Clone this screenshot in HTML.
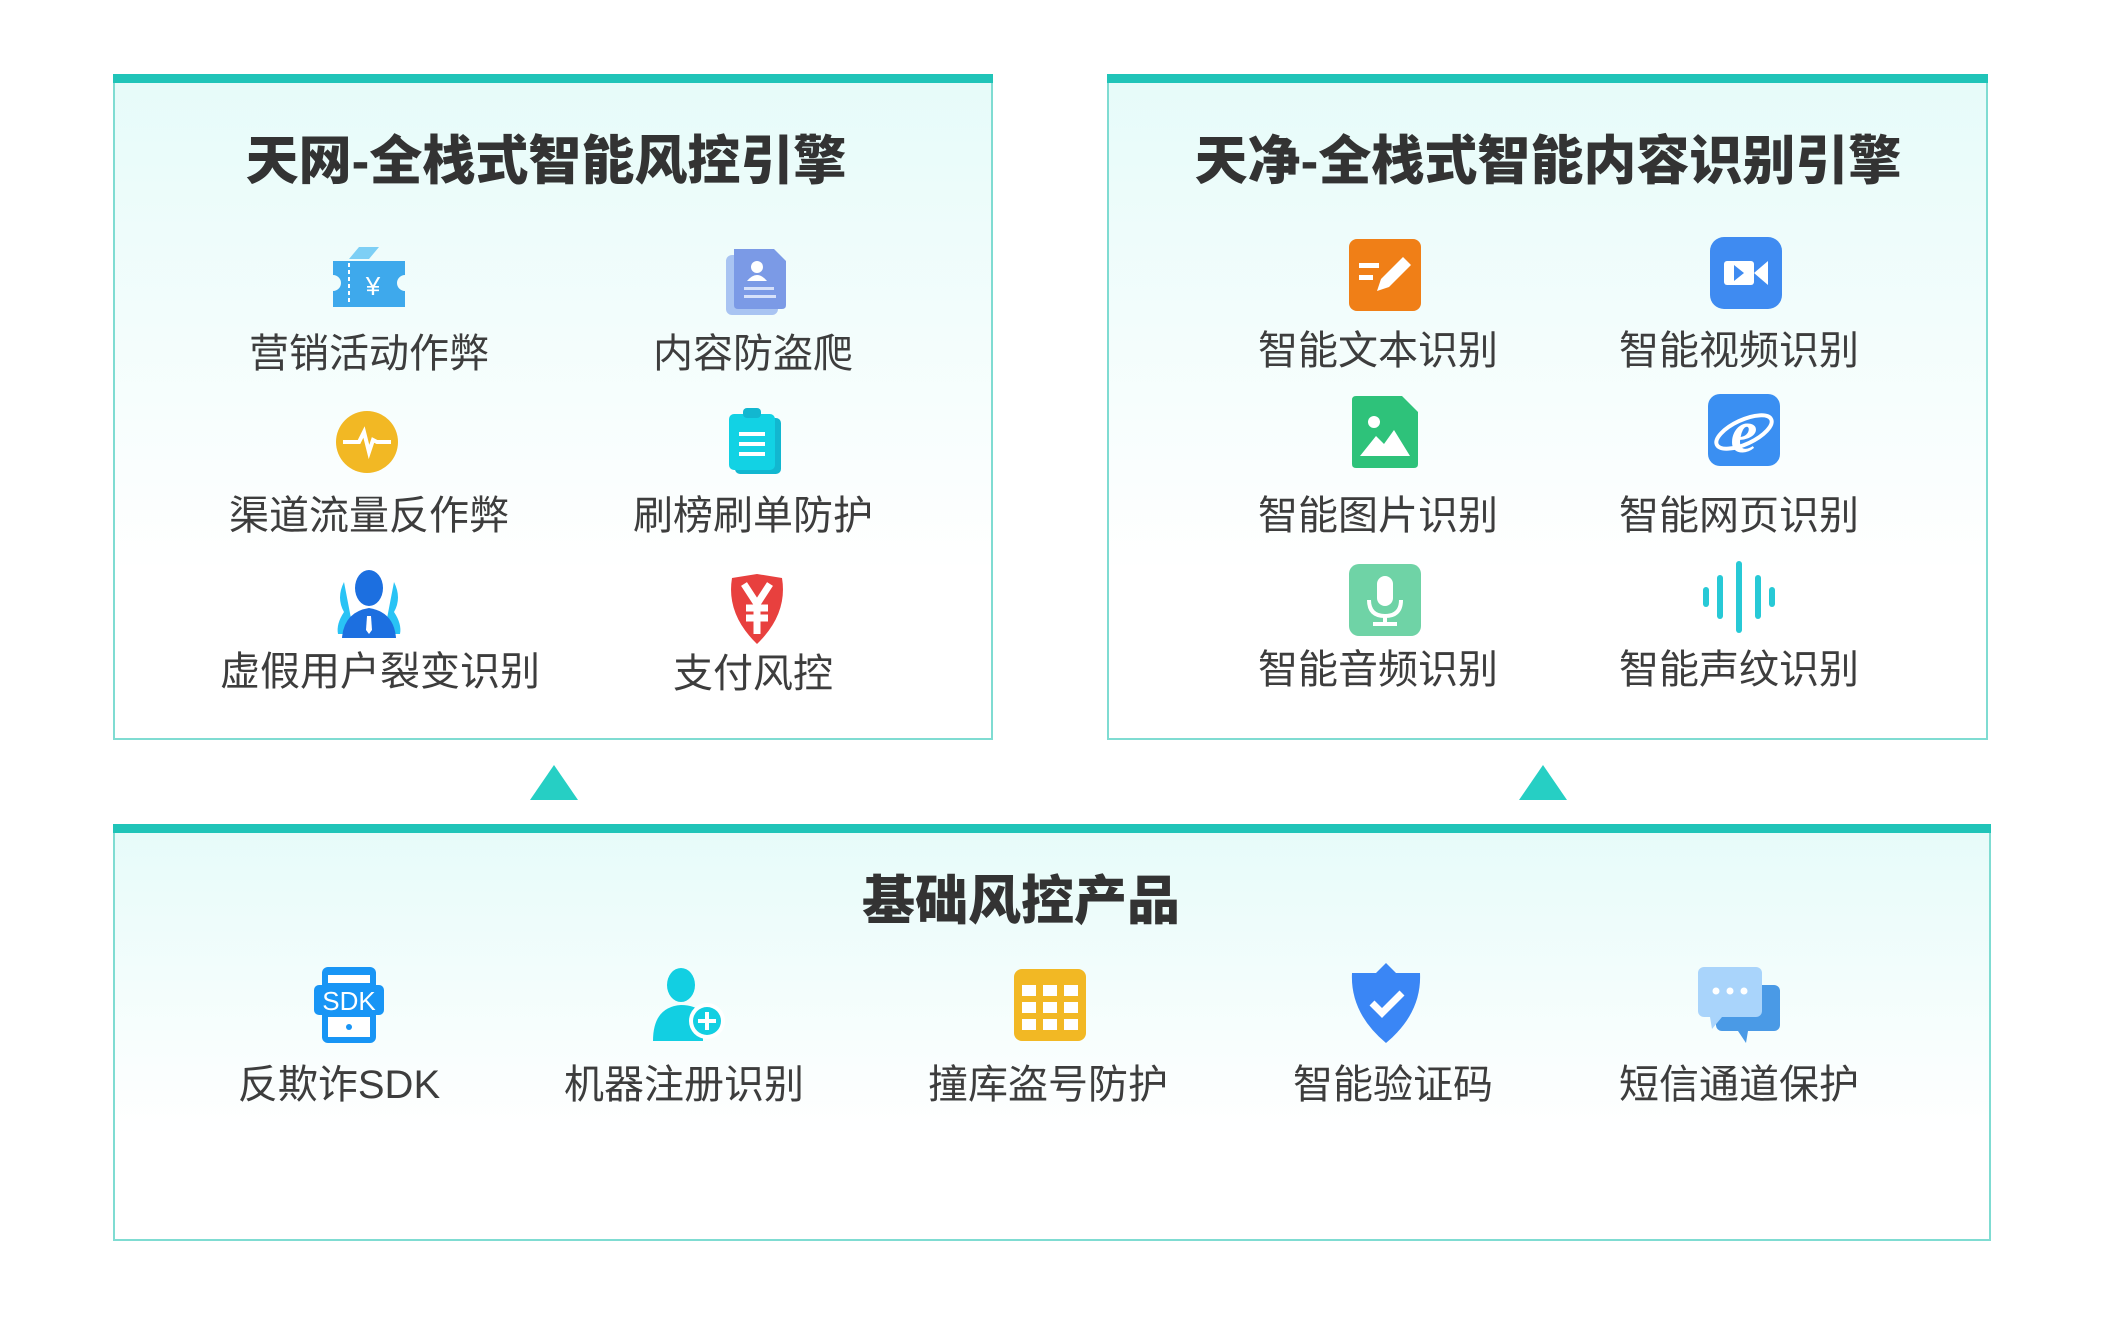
<!DOCTYPE html>
<html><head><meta charset="utf-8"><style>
body{margin:0;width:2102px;height:1330px;background:#fff;position:relative;overflow:hidden;font-family:"Liberation Sans","Noto Sans CJK SC",sans-serif;}
.box{position:absolute;border:2px solid #7fdcd2;border-top:none;background:linear-gradient(#e6fbf9,#ffffff 75%);box-sizing:border-box}
.bar{position:absolute;left:-2px;right:-2px;top:0;height:9px;background:#20c4b8}
.t{position:absolute;transform:translate(-50%,-50%);white-space:nowrap;color:#3a3a3a}
.h{font-size:53px;font-weight:900;color:#333}
.l{font-size:40px;color:#3d3d3d}
.i{position:absolute;transform:translate(-50%,-50%)}
.tri{position:absolute;width:0;height:0;border-left:24px solid transparent;border-right:24px solid transparent;border-bottom:35px solid #26cfc4}
</style></head><body>
<div class="box" style="left:113px;top:74px;width:880px;height:666px"><div class="bar"></div></div>
<div class="box" style="left:1107px;top:74px;width:881px;height:666px"><div class="bar"></div></div>
<div class="box" style="left:113px;top:824px;width:1878px;height:417px"><div class="bar"></div></div>
<div class="tri" style="left:530px;top:765px"></div>
<div class="tri" style="left:1519px;top:765px"></div>

<div class="t h" style="left:546px;top:157px">天网-全栈式智能风控引擎</div>
<div class="t h" style="left:1548px;top:157px">天净-全栈式智能内容识别引擎</div>
<div class="t h" style="left:1021px;top:897px">基础风控产品</div>

<svg class="i" style="left:369px;top:282px" width="80" height="70" viewBox="0 0 80 70"><path d="M20 12 L30 0 L50 0 L40 12Z" fill="#7dcff5"/><path d="M4 14 H76 V28 A8 8 0 0 0 76 44 V60 H4 V44 A8 8 0 0 0 4 28Z" fill="#3ea9ec"/><line x1="20" y1="16" x2="20" y2="58" stroke="#fff" stroke-width="2" stroke-dasharray="4 3"/><text x="44" y="48" font-size="26" fill="#fff" text-anchor="middle" font-family="Liberation Sans">¥</text></svg>
<svg class="i" style="left:757px;top:282px" width="66" height="70" viewBox="0 0 66 70"><rect x="2" y="8" width="52" height="60" rx="6" fill="#a9c4f2"/><path d="M10 2 H50 L62 14 V58 Q62 62 58 62 H14 Q10 62 10 58Z" fill="#7b9ae6"/><circle cx="33" cy="20" r="6" fill="#fff"/><path d="M23 34 Q33 22 43 34Z" fill="#fff"/><rect x="20" y="40" width="30" height="3" fill="#d6e1fa"/><rect x="20" y="48" width="32" height="3" fill="#d6e1fa"/></svg>
<svg class="i" style="left:367px;top:442px" width="64" height="64" viewBox="0 0 64 64"><circle cx="32" cy="32" r="31" fill="#f2b824"/><path d="M8 32 H24 L29 22 L34 42 L38 30 L42 32 H56" stroke="#fff" stroke-width="4" fill="none"/></svg>
<svg class="i" style="left:755px;top:440px" width="56" height="72" viewBox="0 0 56 72"><rect x="8" y="14" width="46" height="56" rx="5" fill="#12b7d0"/><rect x="2" y="10" width="46" height="56" rx="5" fill="#12d2e4"/><rect x="16" y="4" width="18" height="10" rx="4" fill="#12b7d0"/><rect x="12" y="28" width="26" height="4" fill="#fff"/><rect x="12" y="38" width="26" height="4" fill="#fff"/><rect x="12" y="48" width="26" height="4" fill="#fff"/></svg>
<svg class="i" style="left:369px;top:604px" width="70" height="72" viewBox="0 0 70 72"><path d="M10 14 Q2 30 10 44 Q2 56 4 66 H20Z" fill="#29c3f5"/><path d="M60 14 Q68 30 60 44 Q68 56 66 66 H50Z" fill="#29c3f5"/><ellipse cx="35" cy="20" rx="14" ry="18" fill="#1c6fe0"/><path d="M8 70 Q10 44 35 40 Q60 44 62 70Z" fill="#1c6fe0"/><path d="M33 48 H37 L38 62 L35 66 L32 62Z" fill="#fff"/></svg>
<svg class="i" style="left:757px;top:610px" width="62" height="72" viewBox="0 0 62 72"><path d="M6 4 L31 0 L56 4 Q62 40 31 70 Q0 40 6 4Z" fill="#e8403e"/><path d="M18 10 L31 30 L44 10 M31 30 V60 M20 34 H42 M20 44 H42" stroke="#fff" stroke-width="7" fill="none"/></svg>

<svg class="i" style="left:1385px;top:275px" width="72" height="72" viewBox="0 0 72 72"><rect width="72" height="72" rx="8" fill="#f07f17"/><rect x="10" y="24" width="20" height="5" fill="#fff"/><rect x="10" y="36" width="14" height="5" fill="#fff"/><path d="M28 52 L32 40 L54 18 L62 26 L40 48Z" fill="#fff"/></svg>
<svg class="i" style="left:1746px;top:273px" width="72" height="72" viewBox="0 0 72 72"><rect width="72" height="72" rx="14" fill="#3f8bf1"/><rect x="14" y="24" width="30" height="24" rx="3" fill="#fff"/><path d="M44 36 L58 24 V48Z" fill="#fff"/><path d="M24 28 L34 36 L24 44Z" fill="#3f8bf1"/></svg>
<svg class="i" style="left:1385px;top:432px" width="66" height="72" viewBox="0 0 66 72"><path d="M0 4 Q0 0 4 0 H50 L66 16 V68 Q66 72 62 72 H4 Q0 72 0 68Z" fill="#2ec27a"/><circle cx="22" cy="26" r="6" fill="#fff"/><path d="M8 60 L24 40 L32 48 L42 34 L58 60Z" fill="#fff"/></svg>
<svg class="i" style="left:1744px;top:430px" width="72" height="72" viewBox="0 0 72 72"><rect width="72" height="72" rx="12" fill="#3a8ff2"/><text x="36" y="58" font-size="60" font-weight="bold" font-style="italic" fill="#fff" text-anchor="middle" font-family="Liberation Serif">e</text><ellipse cx="36" cy="38" rx="30" ry="12" fill="none" stroke="#fff" stroke-width="4" transform="rotate(-25 36 38)"/></svg>
<svg class="i" style="left:1385px;top:600px" width="72" height="72" viewBox="0 0 72 72"><rect width="72" height="72" rx="10" fill="#6fd3a6"/><rect x="28" y="12" width="16" height="30" rx="8" fill="#fff"/><path d="M20 36 Q20 52 36 52 Q52 52 52 36" stroke="#fff" stroke-width="4" fill="none"/><rect x="34" y="52" width="4" height="8" fill="#fff"/><rect x="24" y="58" width="24" height="4" fill="#fff"/></svg>
<svg class="i" style="left:1739px;top:597px" width="76" height="76" viewBox="0 0 76 76"><g fill="#27c9d6"><rect x="2" y="28" width="6" height="20" rx="3"/><rect x="16" y="16" width="6" height="44" rx="3"/><rect x="35" y="2" width="6" height="72" rx="3"/><rect x="54" y="16" width="6" height="44" rx="3"/><rect x="68" y="28" width="6" height="20" rx="3"/></g></svg>

<svg class="i" style="left:349px;top:1005px" width="74" height="76" viewBox="0 0 74 76"><rect x="10" y="0" width="54" height="76" rx="6" fill="#1895f5"/><rect x="16" y="8" width="42" height="8" fill="#fff"/><rect x="16" y="50" width="42" height="20" fill="#fff"/><circle cx="37" cy="60" r="3" fill="#1895f5"/><rect x="2" y="18" width="70" height="30" rx="5" fill="#1895f5"/><text x="37" y="43" font-size="26" fill="#fff" text-anchor="middle" font-family="Liberation Sans">SDK</text></svg>
<svg class="i" style="left:689px;top:1005px" width="76" height="76" viewBox="0 0 76 76"><ellipse cx="30" cy="18" rx="14" ry="17" fill="#12cfe2"/><path d="M2 74 Q2 40 30 38 Q44 38 52 46 V74Z" fill="#12cfe2"/><circle cx="56" cy="54" r="18" fill="#fff"/><circle cx="56" cy="54" r="14" fill="#12cfe2"/><path d="M56 45 V63 M47 54 H65" stroke="#fff" stroke-width="4"/></svg>
<svg class="i" style="left:1050px;top:1005px" width="72" height="72" viewBox="0 0 72 72"><rect width="72" height="72" rx="8" fill="#f2b824"/><g fill="#fff"><rect x="8" y="16" width="14" height="11"/><rect x="29" y="16" width="14" height="11"/><rect x="50" y="16" width="14" height="11"/><rect x="8" y="33" width="14" height="11"/><rect x="29" y="33" width="14" height="11"/><rect x="50" y="33" width="14" height="11"/><rect x="8" y="50" width="14" height="11"/><rect x="29" y="50" width="14" height="11"/><rect x="50" y="50" width="14" height="11"/></g></svg>
<svg class="i" style="left:1386px;top:1003px" width="72" height="80" viewBox="0 0 72 80"><path d="M36 0 L46 10 L70 10 Q72 50 36 80 Q0 50 2 10 L26 10Z" fill="#3a86f5"/><path d="M22 40 L32 50 L52 30" stroke="#fff" stroke-width="7" fill="none"/></svg>
<svg class="i" style="left:1739px;top:1005px" width="82" height="76" viewBox="0 0 82 76"><rect x="18" y="18" width="64" height="46" rx="6" fill="#4a9ae6"/><path d="M40 64 L48 76 L50 64Z" fill="#4a9ae6"/><rect x="0" y="0" width="64" height="50" rx="6" fill="#a9d4fb"/><path d="M12 50 L14 62 L24 50Z" fill="#a9d4fb"/><circle cx="18" cy="24" r="3.5" fill="#fff"/><circle cx="32" cy="24" r="3.5" fill="#fff"/><circle cx="46" cy="24" r="3.5" fill="#fff"/></svg>

<div class="t l" style="left:369px;top:350px">营销活动作弊</div>
<div class="t l" style="left:753px;top:350px">内容防盗爬</div>
<div class="t l" style="left:369px;top:512px">渠道流量反作弊</div>
<div class="t l" style="left:753px;top:512px">刷榜刷单防护</div>
<div class="t l" style="left:380px;top:668px">虚假用户裂变识别</div>
<div class="t l" style="left:753px;top:670px">支付风控</div>
<div class="t l" style="left:1378px;top:347px">智能文本识别</div>
<div class="t l" style="left:1739px;top:347px">智能视频识别</div>
<div class="t l" style="left:1378px;top:512px">智能图片识别</div>
<div class="t l" style="left:1739px;top:512px">智能网页识别</div>
<div class="t l" style="left:1378px;top:666px">智能音频识别</div>
<div class="t l" style="left:1739px;top:666px">智能声纹识别</div>
<div class="t l" style="left:339px;top:1081px">反欺诈SDK</div>
<div class="t l" style="left:684px;top:1081px">机器注册识别</div>
<div class="t l" style="left:1048px;top:1081px">撞库盗号防护</div>
<div class="t l" style="left:1393px;top:1081px">智能验证码</div>
<div class="t l" style="left:1739px;top:1081px">短信通道保护</div>
</body></html>
